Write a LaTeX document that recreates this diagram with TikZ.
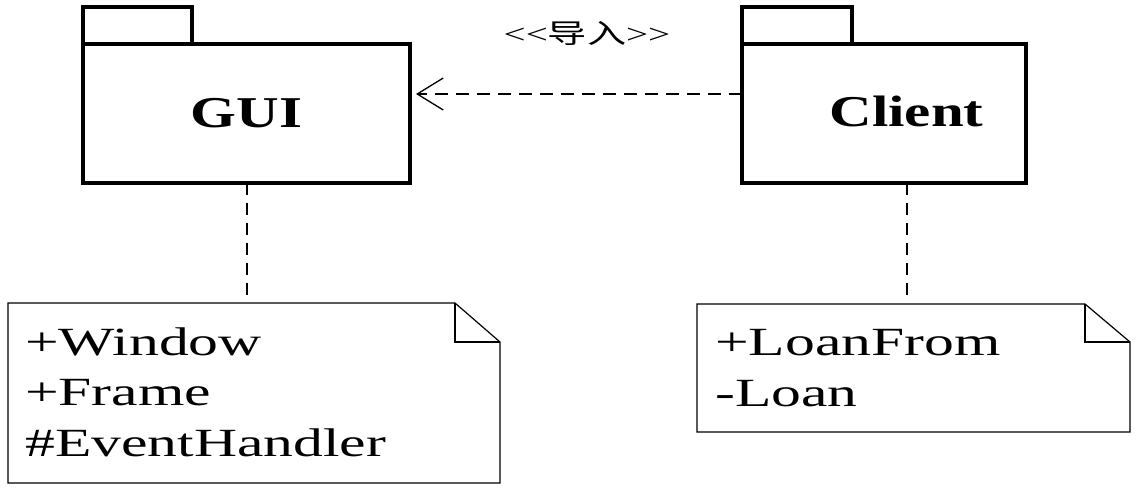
\documentclass[tikz,border=0pt]{standalone}
\usepackage{fontspec}
\usepackage{xcolor}
\usepackage{tikz}
\usetikzlibrary{arrows.meta,positioning}
\setmainfont{Liberation Serif}
\newfontfamily\notefont[FakeStretch=1.49]{Liberation Serif}
\newfontfamily\titlefont[FakeStretch=1.34]{Liberation Serif}
\newfontfamily\stereofont[FakeStretch=1.45]{Liberation Serif}
\newfontfamily\cjkfont[FakeStretch=1.45]{Noto Sans CJK SC}

\tikzset{
    pkgbody/.style={
        draw,
        line width=3.2pt,
        minimum height=139pt,
        inner sep=0pt,
        outer sep=0pt,
        font=\titlefont\bfseries\fontsize{44}{44}\selectfont
    },
    pkgtab/.style={
        draw,
        line width=3.2pt,
        minimum height=37pt,
        inner sep=0pt,
        outer sep=0pt,
        anchor=south west
    },
    notebox/.style={
        inner sep=0pt,
        outer sep=0pt
    },
    noteline/.style={
        line width=1.2pt
    },
    notetext/.style={
        anchor=base west,
        inner sep=0pt,
        font=\notefont\fontsize{40}{40}\selectfont
    },
    tieline/.style={
        line width=2pt,
        dash pattern=on 12pt off 8pt
    },
    importline/.style={
        line width=1.3pt,
        dash pattern=on 13pt off 8pt,
        -{Straight Barb[length=26pt,width=32pt,line width=1.3pt]}
    }
}

\begin{document}
\begin{tikzpicture}[x=1pt,y=-1pt]
                \useasboundingbox (0,0) rectangle (1137,488);

                % packages
                \node[pkgbody, minimum width=327pt] (guibody) at (246.5,113.5) {GUI};
                \node[pkgtab, minimum width=109pt] (guitab) at (guibody.north west) {};

                \node[pkgbody, minimum width=284pt] (clientbody) at (884,113.5) {};
                \node[pkgtab, minimum width=110pt] (clienttab) at (clientbody.north west) {};
                \node[font=\titlefont\bfseries\fontsize{44}{44}\selectfont, inner sep=0pt]
                    (clientname) at (906.5,111) {Client};

                % import dependency
                \draw[importline] ([yshift=19.5pt]clientbody.west) to ([xshift=6pt,yshift=19.5pt]guibody.east);
                \node[anchor=base, inner sep=0pt, font=\fontsize{27}{27}\selectfont]
                    (importlabel) at (587,43) {\stereofont<<\cjkfont 导入\stereofont>>};

                % notes
                \node[notebox, minimum width=492pt, minimum height=180pt] (guinote) at (254,393) {};
                \draw[noteline] (guinote.north west) -- ([xshift=-45pt]guinote.north east)
                    -- ([yshift=-39pt]guinote.north east) -- (guinote.south east)
                    -- (guinote.south west) -- cycle;
                \draw[noteline] ([xshift=-45pt]guinote.north east) |- ([yshift=-39pt]guinote.north east);

                \node[notebox, minimum width=433pt, minimum height=128pt] (clientnote) at (913.5,368) {};
                \draw[noteline] (clientnote.north west) -- ([xshift=-45pt]clientnote.north east)
                    -- ([yshift=-38pt]clientnote.north east) -- (clientnote.south east)
                    -- (clientnote.south west) -- cycle;
                \draw[noteline] ([xshift=-45pt]clientnote.north east) |- ([yshift=-38pt]clientnote.north east);

                \node[notetext] (guiwindow) at (25,355) {+Window};
                \node[notetext] (guiframe) at (25,405.5) {+Frame};
                \node[notetext] (guievent) at (25,456) {\#EventHandler};

                \node[notetext] (clientloanfrom) at (715,355) {+LoanFrom};
                \node[notetext] (clientloan) at (715,406) {-Loan};

                % note ties
                \draw[tieline, shorten >=7pt] (guibody.south) to (guibody.south |- guinote.north);
                \draw[tieline, shorten >=8pt] (clientname.center |- clientbody.south) to (clientname.center |- clientnote.north);

            \end{tikzpicture}
\end{document}
